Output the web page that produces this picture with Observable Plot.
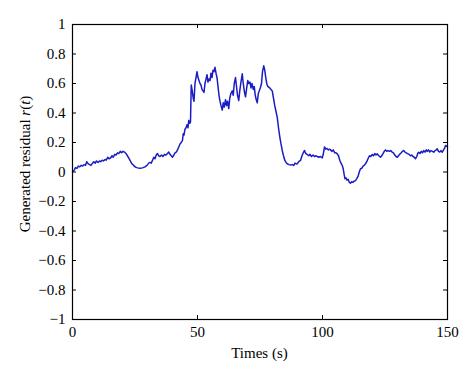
<!DOCTYPE html>
<html>
<head>
<meta charset="utf-8">
<script src="https://cdn.jsdelivr.net/npm/d3@7"></script>
<script src="https://cdn.jsdelivr.net/npm/@observablehq/plot@0.6"></script>
<style>
  html, body { margin: 0; padding: 0; background: white; }
</style>
</head>
<body>
<div id="chart"></div>
<script>
const times = [
  0,0.6,1.2,1.8,2.3,2.9,3.5,4.1,4.6,5.2,5.7,6.3,6.9,7.4,8.0,8.5,9.1,9.6,10.2,10.8,
  11.3,11.9,12.4,13.0,13.5,14.1,14.6,15.2,15.8,16.3,16.9,17.4,18.0,18.5,19.1,19.6,20.2,20.8,21.4,22,
  22.8,23.6,24.4,25.2,26,27,28,29,29.8,30.5,31,31.5,32,32.5,33,33.5,34,34.5,35,35.6,
  36.2,36.8,37.4,38,38.5,39,39.5,40,40.5,41,41.5,42,42.5,43,43.5,44,44.3,44.6,45,45.4,
  45.8,46.2,46.5,46.9,47.2,47.5,47.9,48.3,48.6,49,49.4,49.8,50.2,50.6,51,51.4,51.8,52.2,52.6,53,
  53.4,53.8,54.2,54.6,55,55.4,55.8,56.2,56.6,57,57.4,57.8,58.2,58.6,59,59.4,59.9,60.3,60.7,61.2,
  61.6,62,62.5,62.9,63.3,63.9,64.3,64.7,65.2,65.6,66,66.5,66.9,67.3,67.9,68.3,68.8,69.2,69.6,70.1,
  70.5,71,71.4,71.8,72.3,72.7,73.1,73.5,73.9,74.3,74.7,75.2,75.6,76,76.5,76.9,77.3,77.7,78.1,78.5,
  78.9,79.4,79.9,80.4,80.9,81.4,81.9,82.4,82.9,83.4,83.9,84.4,84.9,85.4,85.9,86.6,87.3,88,88.5,89,
  89.5,89.9,90.5,91.2,91.8,92.3,92.8,93.3,93.8,94.5,95,95.6,96.2,96.8,97.4,97.9,98.5,99.2,99.9,100.3,
  100.8,101.3,101.8,102.3,102.8,103.2,103.8,104.3,104.9,105.4,105.9,106.4,106.9,107.4,107.9,108.3,108.7,109,109.4,109.8,
  110.3,110.7,111.2,111.7,112.2,112.7,113.2,113.7,114.2,114.7,115.2,115.7,116.2,116.7,117.2,117.7,118.2,118.8,119.3,119.9,
  120.4,120.9,121.4,121.9,122.5,123.2,123.7,124.2,124.7,125.2,125.7,126.2,126.8,127.3,127.9,128.4,128.9,129.4,129.9,130.4,
  130.9,131.5,132,132.5,133,133.5,134,134.6,135.2,135.7,136.2,136.7,137.2,137.7,138.2,138.5,139,139.5,140,140.5,
  141,141.5,141.9,142.4,142.9,143.4,144,144.5,145,145.5,145.9,146.4,146.9,147.4,147.9,148.4,148.8,149.2,149.6,150
];
const residual = [
  0.00,0.01,0.03,0.025,0.04,0.035,0.045,0.04,0.05,0.045,0.07,0.055,0.05,0.045,0.06,0.07,0.06,0.075,0.065,0.075,
  0.07,0.08,0.075,0.085,0.08,0.10,0.09,0.095,0.11,0.10,0.12,0.115,0.13,0.125,0.14,0.13,0.14,0.135,0.125,0.11,
  0.085,0.06,0.045,0.033,0.028,0.026,0.028,0.035,0.045,0.06,0.065,0.06,0.08,0.10,0.09,0.115,0.125,0.11,0.105,0.115,
  0.105,0.12,0.115,0.125,0.135,0.12,0.11,0.10,0.115,0.13,0.135,0.15,0.17,0.19,0.20,0.215,0.26,0.25,0.29,0.30,
  0.32,0.30,0.35,0.33,0.34,0.59,0.55,0.50,0.48,0.60,0.64,0.68,0.64,0.62,0.60,0.59,0.56,0.55,0.54,0.60,
  0.63,0.66,0.61,0.63,0.62,0.67,0.64,0.69,0.68,0.71,0.67,0.64,0.58,0.52,0.48,0.45,0.42,0.47,0.44,0.49,
  0.45,0.48,0.43,0.50,0.53,0.55,0.52,0.60,0.64,0.58,0.52,0.485,0.55,0.60,0.666,0.60,0.54,0.51,0.56,0.62,
  0.60,0.61,0.57,0.60,0.56,0.58,0.52,0.49,0.47,0.53,0.55,0.575,0.60,0.68,0.72,0.69,0.64,0.60,0.58,0.575,
  0.57,0.56,0.55,0.50,0.45,0.41,0.37,0.30,0.24,0.19,0.146,0.11,0.08,0.065,0.056,0.05,0.048,0.05,0.044,0.06,
  0.055,0.056,0.07,0.078,0.11,0.13,0.146,0.125,0.12,0.11,0.12,0.105,0.115,0.105,0.11,0.105,0.10,0.105,0.096,0.12,
  0.17,0.155,0.16,0.15,0.155,0.15,0.14,0.15,0.13,0.13,0.123,0.11,0.08,0.06,0.044,0.02,-0.02,-0.046,-0.04,-0.055,
  -0.05,-0.07,-0.076,-0.065,-0.07,-0.062,-0.058,-0.045,-0.03,0.00,0.022,0.025,0.04,0.045,0.056,0.07,0.09,0.11,0.105,0.119,
  0.11,0.125,0.115,0.123,0.11,0.10,0.11,0.125,0.14,0.15,0.14,0.145,0.14,0.145,0.134,0.13,0.115,0.105,0.10,0.11,
  0.12,0.13,0.14,0.146,0.135,0.13,0.125,0.12,0.11,0.115,0.105,0.10,0.09,0.105,0.13,0.134,0.125,0.14,0.13,0.145,
  0.135,0.15,0.14,0.15,0.135,0.145,0.14,0.134,0.145,0.15,0.157,0.14,0.135,0.145,0.134,0.15,0.16,0.18,0.175,0.17
];
const xTicks = [0, 50, 100, 150];
const yTicks = [-1, -0.8, -0.6, -0.4, -0.2, 0, 0.2, 0.4, 0.6, 0.8, 1];
const xLabel = "Times (s)";
const yLabelParts = [["Generated residual ", false], ["r", true], ["(", false], ["t", true], [")", false]];

const data = times.map((t, i) => ({t, r: residual[i]}));

const W = 474, H = 380, ML = 72, MR = 27, MT = 24, MB = 61;
const plotW = W - ML - MR, plotH = H - MT - MB;
const tickLen = 4;
const fmt = d => d === 0 ? "0" : (d < 0 ? "\u2212" : "") + String(Math.abs(d));

const chart = Plot.plot({
  width: W, height: H,
  marginLeft: ML, marginRight: MR, marginTop: MT, marginBottom: MB,
  style: {fontFamily: "'Liberation Serif', 'Times New Roman', serif", fontSize: "15px", background: "white", color: "black"},
  x: {domain: [0, 150]},
  y: {domain: [-1, 1]},
  marks: [
    Plot.axisX({ticks: xTicks, tickSize: 0, tickPadding: 7, label: null, fontSize: 15}),
    Plot.axisY({ticks: yTicks, tickSize: 0, tickPadding: 7, tickFormat: fmt, label: null, fontSize: 15}),
    Plot.tickY(yTicks, {y: d => d, insetRight: plotW - tickLen, stroke: "black"}),
    Plot.tickY(yTicks, {y: d => d, insetLeft: plotW - tickLen, stroke: "black"}),
    Plot.tickX(xTicks, {x: d => d, insetTop: plotH - tickLen, stroke: "black"}),
    Plot.tickX(xTicks, {x: d => d, insetBottom: plotH - tickLen, stroke: "black"}),
    Plot.line(data, {x: "t", y: "r", stroke: "#1c1cc4", strokeWidth: 1.5}),
    Plot.frame({stroke: "black", strokeWidth: 1.2})
  ]
});

const svg = d3.select(chart);
svg.append("text")
  .attr("x", ML + plotW / 2).attr("y", 358)
  .attr("text-anchor", "middle")
  .attr("font-size", 15)
  .attr("fill", "black")
  .text(xLabel);

const yl = svg.append("text")
  .attr("transform", "translate(30,164) rotate(-90)")
  .attr("text-anchor", "middle")
  .attr("font-size", 15)
  .attr("fill", "black");
yLabelParts.forEach(([s, it]) => {
  yl.append("tspan").attr("font-style", it ? "italic" : "normal").text(s);
});

document.getElementById("chart").appendChild(chart);
</script>
</body>
</html>
